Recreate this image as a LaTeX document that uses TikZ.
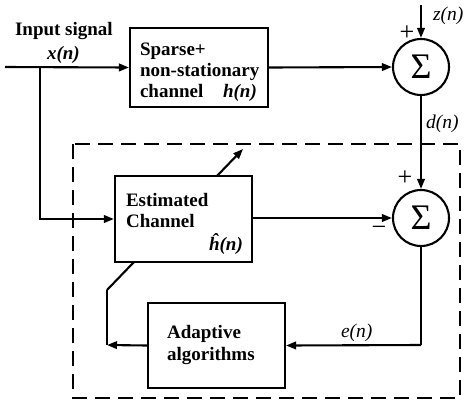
\documentclass[tikz,border=0pt]{standalone}
\usepackage{fontspec}
\setmainfont{Liberation Serif}
\usetikzlibrary{arrows.meta}
\begin{document}
\begin{tikzpicture}[x=1pt,y=-1pt,line width=2.1pt,
  blk/.style={draw,fill=white,line width=2.1pt,inner sep=0pt},
  sumnode/.style={draw,circle,fill=white,minimum size=56pt,inner sep=0pt,line width=2.1pt},
  arr/.style={-{Triangle[length=10pt,width=7.5pt]}},
  lbl/.style={font=\fontsize{19}{21}\selectfont\bfseries,inner sep=0pt,anchor=base west},
  sig/.style={font=\fontsize{19.5}{21}\selectfont\itshape,inner sep=0pt,anchor=base west},
  sgn/.style={font=\fontsize{26}{26}\selectfont,inner sep=0pt},
  dashbox/.style={draw,line width=2.4pt,dash pattern=on 15pt off 8pt}]
\useasboundingbox (0,0) rectangle (474,408);
% dashed adaptive-filter region
\draw[dashbox] (73,144) rectangle (460,398);
% coordinates
\coordinate (in) at (5,67);
\coordinate (br) at (40,67);
\coordinate (ztop) at (421,5);
\coordinate (cor) at (107,345);
\coordinate (bend) at (107,290);
\coordinate (tip) at (243,149);
\coordinate (ecor) at (421,345);
% slanted adaptation arrow (behind box)
\draw[arr] (bend) -- (tip);
% blocks
\node[blk,minimum width=138pt,minimum height=79pt] (ch) at (199,67.5) {};
\node[blk,minimum width=137pt,minimum height=86pt] (est) at (183.5,219) {};
\node[blk,minimum width=137pt,minimum height=85pt] (ada) at (216.5,345.5) {};
\node[sumnode] (s1) at (421,67) {\fontsize{36}{36}\selectfont Σ};
\node[sumnode] (s2) at (421,218) {\fontsize{36}{36}\selectfont Σ};
% texts
\node[lbl] (tin) at (14,35) {Input signal};
\node[lbl] (tx) at (46,59) {\textit{x(n)}};
\node[lbl] (t1) at (139,55) {Sparse+};
\node[lbl] (t2) at (139,76) {non-stationary};
\node[lbl] (t3) at (139,97) {channel};
\node[lbl] (th) at (222,97) {\textit{h(n)}};
\node[lbl] (e1) at (125,206) {Estimated};
\node[lbl] (e2) at (125,227) {Channel};
\node[lbl] (eh) at (208,250) {\textit{ĥ(n)}};
\node[lbl] (a1) at (166,338) {Adaptive};
\node[lbl] (a2) at (166,360) {algorithms};
\node[sig] (tz) at (432,20) {z(n)};
\node[sig] (td) at (425,128) {d(n)};
\node[sig] (te) at (340,337) {e(n)};
\node[sgn] (p1) at (407,33) {+};
\node[sgn] (p2) at (405,178) {+};
\node[sgn] (m2) at (379,231) {−};
% connectors
\draw[arr] (in) -- (ch.west);
\draw[arr] (br) |- (est.west);
\draw[arr] (ch.east) -- (s1.west);
\draw[arr] (ztop) -- (s1.north);
\draw[arr] (s1.south) -- (s2.north);
\draw[arr] (est.east |- s2) -- (s2.west);
\draw (s2.south) -- (ecor);
\draw[arr] (ecor) -- (ada.east);
\draw[arr] (ada.west) -- (cor);
\draw (cor) -- (bend);
\end{tikzpicture}
\end{document}
